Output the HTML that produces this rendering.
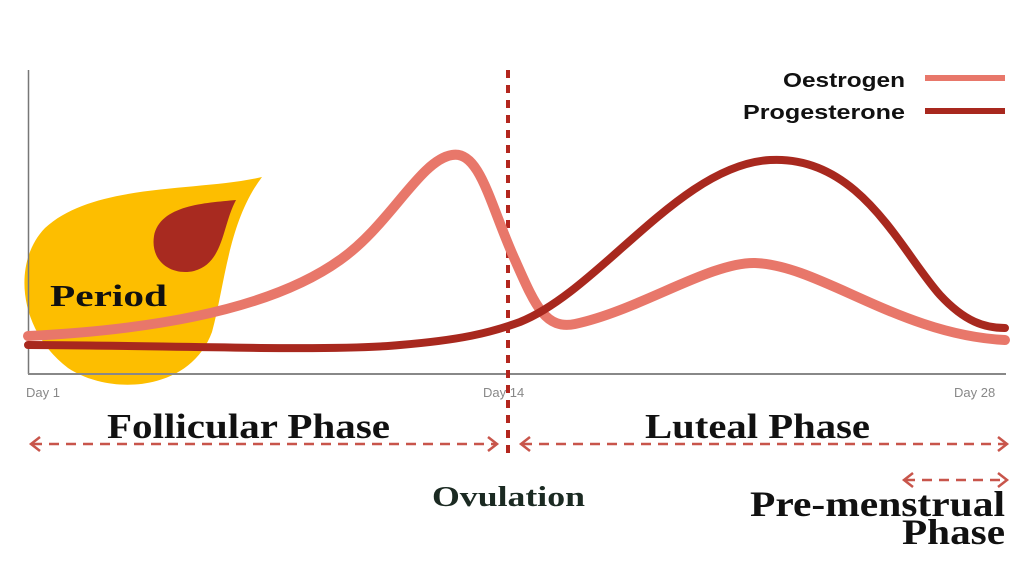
<!DOCTYPE html>
<html><head><meta charset="utf-8"><style>
html,body{margin:0;padding:0;background:#fff;}
svg{display:block;}
.serif{font-family:"Liberation Serif","DejaVu Serif",serif;font-weight:bold;}
.sans{font-family:"Liberation Sans","DejaVu Sans",sans-serif;}
</style></head><body>
<svg width="1024" height="577" viewBox="0 0 1024 577" xmlns="http://www.w3.org/2000/svg">
<path d="M262,177 C200,192 95,182 45,228 C12,262 18,330 68,368 C110,396 190,392 212,332 C225,285 228,222 262,177Z" fill="#FDBE00"/>
<path d="M236,200 C205,203 160,205 154,236 C150,262 172,276 194,271 C224,263 222,226 236,200Z" fill="#A82A20"/>
<text x="50" y="306" class="serif" font-size="31" fill="#111" textLength="117" lengthAdjust="spacingAndGlyphs">Period</text>
<line x1="28.5" y1="70" x2="28.5" y2="374" stroke="#777" stroke-width="1.5"/>
<line x1="28" y1="374" x2="1006" y2="374" stroke="#888" stroke-width="2"/>
<text x="26" y="397" class="sans" font-size="13" fill="#888">Day 1</text>
<text x="483" y="397" class="sans" font-size="13" fill="#888">Day 14</text>
<text x="954" y="397" class="sans" font-size="13" fill="#888">Day 28</text>
<line x1="508" y1="70" x2="508" y2="456" stroke="#B3261E" stroke-width="4" stroke-dasharray="8,7"/>
<path d="M28,336 C150,330 270,310 340,260 C390,225 420,160 452,155 C480,150 490,205 515,260 C535,305 545,330 575,324 C640,310 710,262 755,263 C820,265 900,335 1005,340" fill="none" stroke="#E8776A" stroke-width="10" stroke-linecap="round"/>
<path d="M28,345 C150,345 330,352 400,345 C460,340 490,333 520,322 C600,290 680,165 770,160 C860,155 900,250 940,295 C965,322 985,328 1005,328" fill="none" stroke="#A8281E" stroke-width="8" stroke-linecap="round"/>
<text x="905" y="87" text-anchor="end" class="sans" font-weight="bold" font-size="20" fill="#111" textLength="122" lengthAdjust="spacingAndGlyphs">Oestrogen</text>
<line x1="925" y1="78" x2="1005" y2="78" stroke="#E8776A" stroke-width="6"/>
<text x="905" y="119" text-anchor="end" class="sans" font-weight="bold" font-size="20" fill="#111" textLength="162" lengthAdjust="spacingAndGlyphs">Progesterone</text>
<line x1="925" y1="111" x2="1005" y2="111" stroke="#A8281E" stroke-width="6"/>
<text x="107" y="438" class="serif" font-size="35" fill="#111" textLength="283" lengthAdjust="spacingAndGlyphs">Follicular Phase</text>
<text x="645" y="438" class="serif" font-size="35" fill="#111" textLength="225" lengthAdjust="spacingAndGlyphs">Luteal Phase</text>
<g stroke="#C8554B" stroke-width="2.5" fill="none">
<line x1="32" y1="444" x2="496" y2="444" stroke-dasharray="10,7"/>
<polyline points="40,437 31,444 40,451"/>
<polyline points="488,437 497,444 488,451"/>
<line x1="522" y1="444" x2="1006" y2="444" stroke-dasharray="10,7"/>
<polyline points="530,437 521,444 530,451"/>
<polyline points="998,437 1007,444 998,451"/>
<line x1="905" y1="480" x2="1006" y2="480" stroke-dasharray="10,7"/>
<polyline points="913,473 904,480 913,487"/>
<polyline points="998,473 1007,480 998,487"/>
</g>
<text x="432" y="506" class="serif" font-size="29" fill="#1b2a22" textLength="153" lengthAdjust="spacingAndGlyphs">Ovulation</text>
<text x="750" y="516" class="serif" font-size="36" fill="#111" textLength="255" lengthAdjust="spacingAndGlyphs">Pre-menstrual</text>
<text x="902" y="544" class="serif" font-size="36" fill="#111" textLength="103" lengthAdjust="spacingAndGlyphs">Phase</text>
</svg>
</body></html>
